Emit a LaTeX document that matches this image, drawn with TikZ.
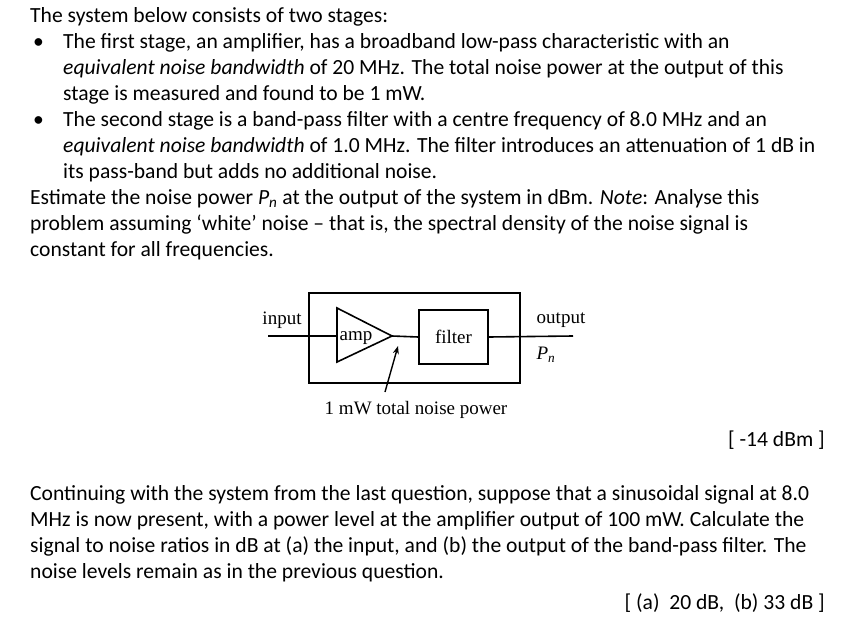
\documentclass[tikz,border=0pt]{standalone}
\usepackage{fontspec}
\setmainfont{Carlito}
\newfontfamily\tms{Liberation Serif}
\usetikzlibrary{arrows.meta}
\begin{document}
\begin{tikzpicture}[x=1pt,y=-1pt,
  txt/.style={anchor=base west,inner sep=0,font=\fontsize{21.6}{24}\selectfont},
  rtxt/.style={anchor=base east,inner sep=0,font=\fontsize{21.6}{24}\selectfont},
  dia/.style={inner sep=0,font=\tms\fontsize{19}{21}\selectfont},
  ln/.style={line width=1.6pt}]
\useasboundingbox (0,0) rectangle (841,621);
\node[txt] (l1) at (30,22) {The system below consists of two stages:};
\node[txt] (b1) at (33,48) {\textbullet};
\node[txt] (l2) at (63,48) {The first stage, an amplifier, has a broadband low-pass characteristic with an};
\node[txt] (l3) at (63,74) {\textit{equivalent noise bandwidth} of 20 MHz. The total noise power at the output of this};
\node[txt] (l4) at (63,100) {stage is measured and found to be 1 mW.};
\node[txt] (b2) at (33,126) {\textbullet};
\node[txt] (l5) at (63,126) {The second stage is a band-pass filter with a centre frequency of 8.0 MHz and an};
\node[txt] (l6) at (63,152) {\textit{equivalent noise bandwidth} of 1.0 MHz. The filter introduces an attenuation of 1 dB in};
\node[txt] (l7) at (63,178) {its pass-band but adds no additional noise.};
\node[txt] (l8) at (30,204) {Estimate the noise power \textit{P\textsubscript{n}} at the output of the system in dBm. \textit{Note}: Analyse this};
\node[txt] (l9) at (30,230) {problem assuming ‘white’ noise – that is, the spectral density of the noise signal is};
\node[txt] (l10) at (30,256) {constant for all frequencies.};
% diagram
\draw[ln] (309,293) rectangle (520,383);
\coordinate (in) at (268,336);
\coordinate (out) at (573,336);
\draw[ln] (337,308) -- (392,336) -- (337,362) -- cycle;
\node[draw,line width=1.6pt,minimum width=69pt,minimum height=54pt,inner sep=0] (flt) at (453.5,337) {};
\node[dia] at (flt) {filter};
\node[dia] (amp) at (356,338) {amp};
\draw[ln] (in) -- (337,336);
\draw[ln] (392,336) -- (flt.west);
\draw[ln] (flt.east) -- (out);
\node[dia] (inp) at (282,320) {input};
\node[dia] (outp) at (561,320) {output};
\node[dia] (pn) at (546,355) {\textit{P\textsubscript{n}}};
\node[dia] (np) at (416,410) {1 mW total noise power};
\draw[line width=1.4pt,-{Stealth[length=8pt,width=6pt]}] (385,392) -- (398,346);
\node[rtxt] (a1) at (825,446) {[ -14 dBm ]};
\node[txt] (m1) at (30,500) {Continuing with the system from the last question, suppose that a sinusoidal signal at 8.0};
\node[txt] (m2) at (30,526) {MHz is now present, with a power level at the amplifier output of 100 mW. Calculate the};
\node[txt] (m3) at (30,552) {signal to noise ratios in dB at (a) the input, and (b) the output of the band-pass filter. The};
\node[txt] (m4) at (30,578) {noise levels remain as in the previous question.};
\node[rtxt] (a2) at (825,609) {[ (a)\ \ 20 dB,\ \ (b) 33 dB ]};
\end{tikzpicture}
\end{document}
